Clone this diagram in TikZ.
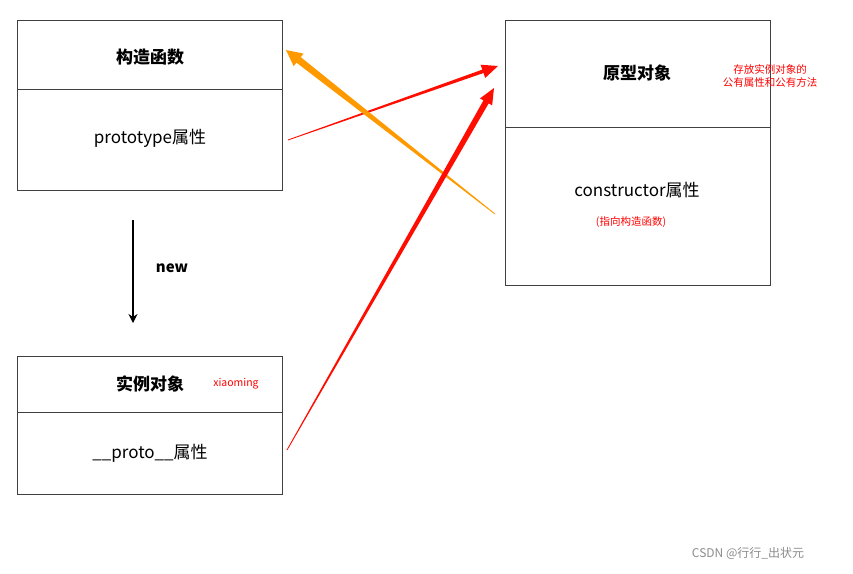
\documentclass[tikz,border=0pt]{standalone}
\usepackage{fontspec}
\setmainfont{Noto Sans CJK SC}
\usetikzlibrary{calc,arrows.meta}
\newcommand{\taper}[7]{% a b tailw shaftw headw headlen color
  \coordinate (tH) at ($(#2)!#6!(#1)$);
  \fill[#7] ($(#1)!#3!90:(#2)$) -- ($(tH)!#4!90:(#2)$) -- ($(tH)!#5!90:(#2)$) -- (#2)
    -- ($(tH)!#5!-90:(#2)$) -- ($(tH)!#4!-90:(#2)$) -- ($(#1)!#3!-90:(#2)$) -- cycle;}
\begin{document}
\begin{tikzpicture}[x=1pt,y=-1pt,
  box/.style={draw=black!75,line width=0.8pt},
  txt/.style={font=\fontsize{17}{20}\selectfont},
  ttl/.style={font=\fontsize{17}{20}\selectfont\bfseries},
  red note/.style={text=red,font=\fontsize{10.5}{13}\selectfont}]
\useasboundingbox (0,0) rectangle (853,573);
\fill[white] (0,0) rectangle (853,573);
% boxes
\draw[box] (17,20) rectangle (282,190); \draw[box] (17,89) -- (282,89);
\draw[box] (505,20) rectangle (770,285); \draw[box] (505,127) -- (770,127);
\draw[box] (17,356) rectangle (282,494); \draw[box] (17,412) -- (282,412);
\node[ttl] (ctor) at (150,57) {构造函数};
\node[txt] (proto) at (150,138) {prototype属性};
\node[ttl] (pobj) at (637,73) {原型对象};
\node[red note,align=center] (note) at (770,76) {存放实例对象的\\公有属性和公有方法};
\node[txt] (cons) at (637,190) {constructor属性};
\node[red note] (consnote) at (631,222) {(指向构造函数)};
\node[ttl] (inst) at (150,384) {实例对象};
\node[red note] (xm) at (236,384) {xiaoming};
\node[txt] (pp) at (150,453) {\_\_proto\_\_属性};
\node[text=black!45,font=\fontsize{12}{14}\selectfont] (wm) at (748,553) {CSDN @行行\_出状元};
% new arrow
\coordinate (n1) at (133,220); \coordinate (n2) at (133,323);
\draw[line width=1.2pt,-{Stealth[length=9pt,width=9pt]}] (n1) -- (n2);
\node[font=\fontsize{15}{18}\selectfont\bfseries] (newl) at (172,268) {new};
% tapered arrows
\coordinate (a1) at (288,140); \coordinate (b1) at (498,66);
\taper{a1}{b1}{0.4pt}{1.8pt}{7pt}{16pt}{red!90!orange}
\coordinate (a2) at (495,214); \coordinate (b2) at (286,50);
\taper{a2}{b2}{0.4pt}{3.5pt}{8pt}{16pt}{orange!80!yellow}
\coordinate (a3) at (287,450); \coordinate (b3) at (494,88);
\taper{a3}{b3}{0.4pt}{3pt}{7pt}{16pt}{red!90!orange}
\end{tikzpicture}
\end{document}
